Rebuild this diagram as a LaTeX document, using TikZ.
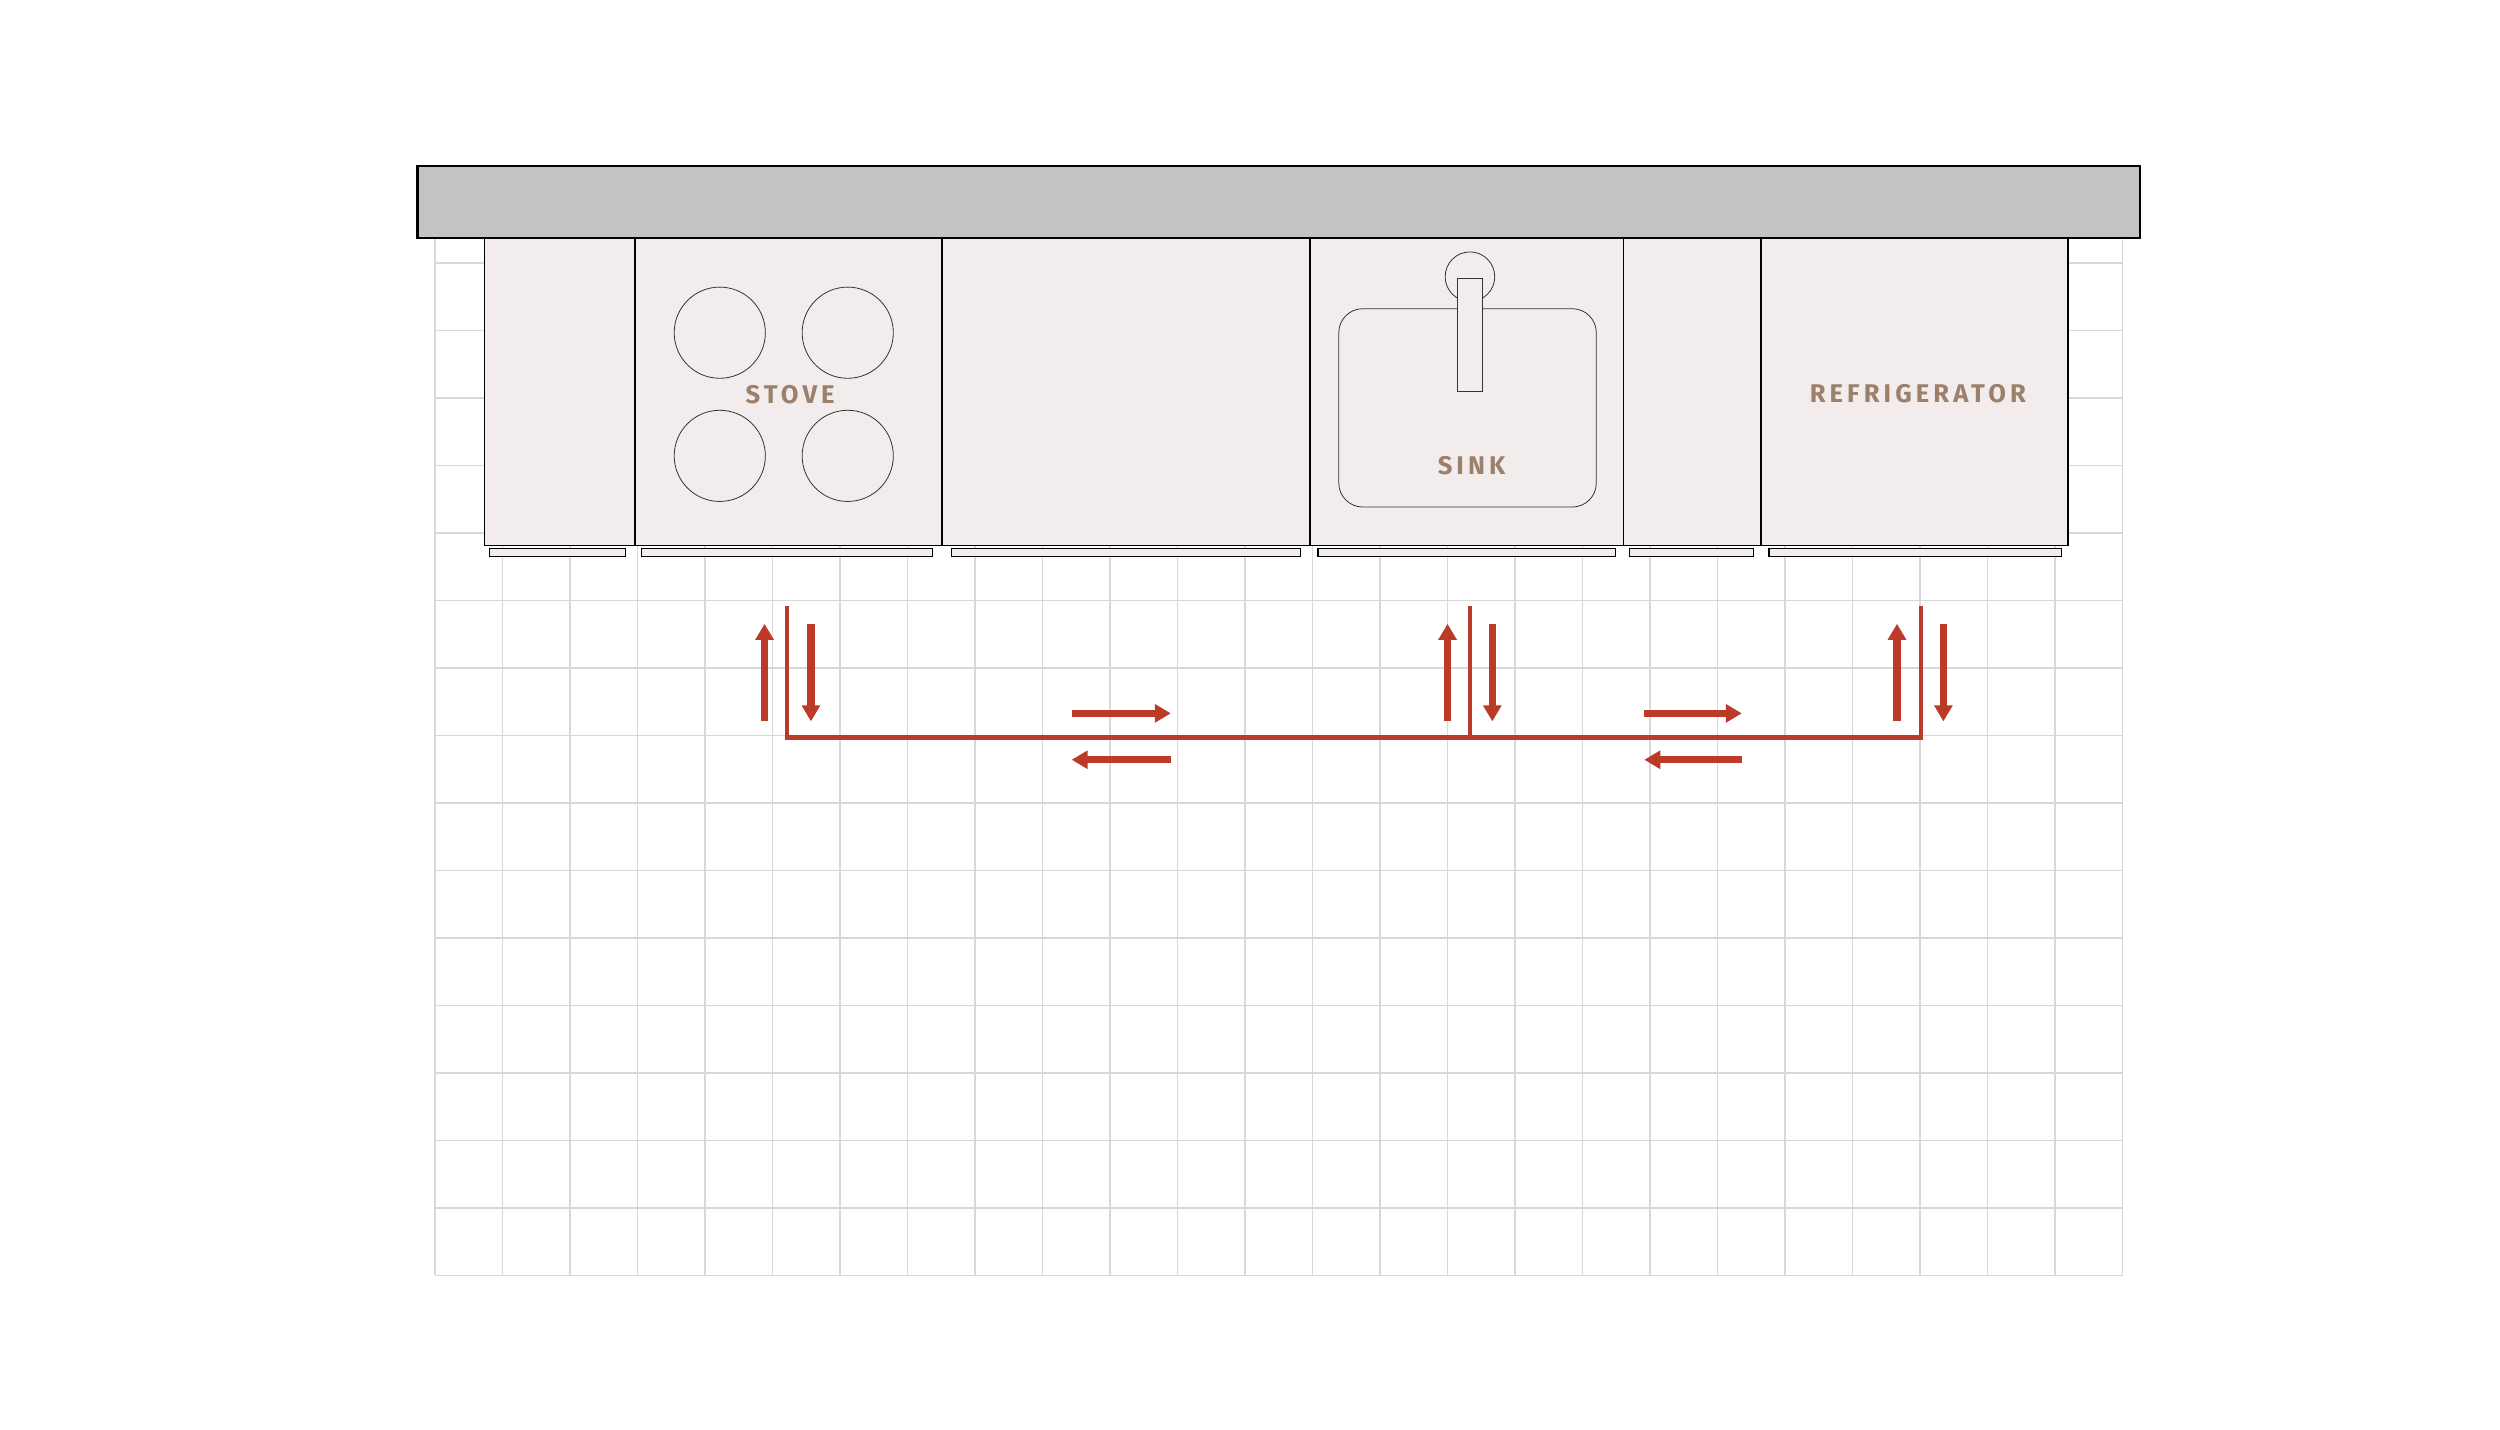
\documentclass[tikz,border=0pt]{standalone}
\usepackage{fontspec}
\setsansfont{Fira Sans}
\usetikzlibrary{arrows.meta}
\definecolor{gridc}{HTML}{D8D8DA}
\definecolor{cab}{HTML}{F2EDEC}
\definecolor{top}{HTML}{C4C3C4}
\definecolor{pipe}{HTML}{BC3A28}
\definecolor{lab}{HTML}{9C806C}
\tikzset{
  cabinet/.style={draw=black,line width=0.9pt,fill=cab},
  plate/.style={draw=black,line width=0.7pt,fill=cab},
  thin/.style={draw=black!80,line width=0.5pt},
  pipeline/.style={draw=pipe,line width=2.8pt},
  flow/.style={draw=pipe,line width=4.5pt,-{Triangle[length=10pt,width=11pt]}},
  lbl/.style={text=lab,font=\sffamily\bfseries\fontsize{16}{16}\selectfont\addfontfeature{LetterSpace=16}}
}
\begin{document}
\begin{tikzpicture}[x=1pt,y=-1pt]
\useasboundingbox (0,0) rectangle (1563,894);
\fill[white] (0,0) rectangle (1563,894);
% grid
\foreach \k in {0,...,25} \draw[gridc,line width=0.8pt] (272+42.2*\k,149) -- (272+42.2*\k,797);
\foreach \k in {0,...,15} \draw[gridc,line width=0.8pt] (272,164.5+42.2*\k) -- (1327,164.5+42.2*\k);
% cabinets
\foreach \a/\b in {303/397,397/589,589/819,819/1015,1015/1101,1101/1293}
  \draw[cabinet] (\a,149) rectangle (\b,341);
\foreach \a/\b in {306/391,401/583,595/813,824/1010,1019/1096,1106/1289}
  \draw[plate] (\a,343) rectangle (\b,348);
% countertop
\draw[fill=top,draw=black,line width=1.4pt] (261,104) rectangle (1338,149);
% stove
\foreach \x/\y in {450/208,530/208,450/285,530/285} \draw[thin] (\x,\y) circle (28.5);
\node[lbl] (stove) at (494,247) {STOVE};
% sink
\draw[thin,rounded corners=15pt] (837,193) rectangle (998,317);
\draw[thin,fill=cab] (919,173) circle (15.5);
\draw[thin,fill=cab] (911,174) rectangle (927,245);
\node[lbl] (sink) at (920,291) {SINK};
\node[lbl] (fridge) at (1199,246) {REFRIGERATOR};
% pipes
\coordinate (sA) at (492,379); \coordinate (sB) at (492,461);
\coordinate (kA) at (919,379); \coordinate (kB) at (919,461);
\coordinate (fA) at (1201,379); \coordinate (fB) at (1201,461);
\draw[pipeline] (sA) -- (sB) -- (fB) -- (fA);
\draw[pipeline] (kA) -- (kB);
% flow arrows
\foreach \u/\d in {478/507,905/933,1186/1215}{
  \draw[flow] (\u,451) -- (\u,390);
  \draw[flow] (\d,390) -- (\d,451);
}
\foreach \a/\b in {670/732,1028/1089}{
  \draw[flow] (\a,446) -- (\b,446);
  \draw[flow] (\b,475) -- (\a,475);
}
\end{tikzpicture}
\end{document}
